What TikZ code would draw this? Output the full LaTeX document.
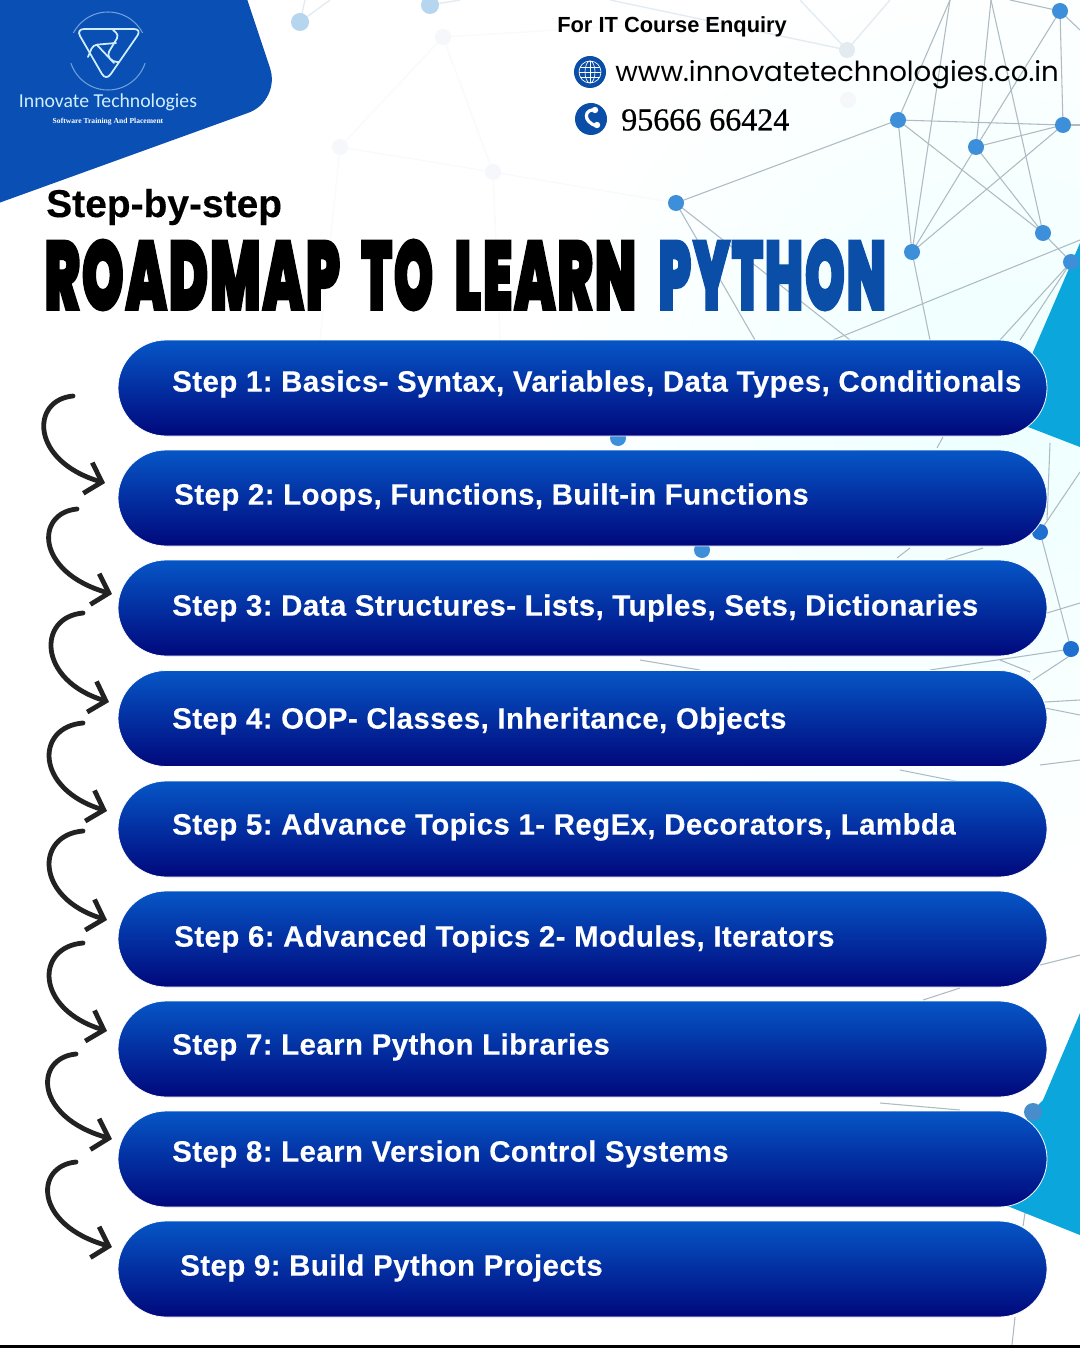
\documentclass[tikz,border=0pt]{standalone}
\usepackage{fontspec}
\usepackage{graphicx}
\usetikzlibrary{arrows.meta,shapes.misc,calc}
\setmainfont{Liberation Sans}
\newfontfamily\stepfont[LetterSpace=1.4,FakeBold=0.25]{Liberation Sans Bold}
\newfontfamily\boldfont[FakeBold=0.3]{Liberation Sans Bold}
\newfontfamily\enqfont{Liberation Sans Bold}
\newfontfamily\headfont[FakeBold=2.5,LetterSpace=3]{Poppins Black}
\newfontfamily\logofont{Carlito}
\newfontfamily\webfont{Poppins}
\newfontfamily\serfont[FakeBold=0.6]{Liberation Serif}
\newfontfamily\tagfont{Liberation Serif Bold}
\frenchspacing
\definecolor{brandblue}{HTML}{0A4FB3}
\definecolor{headblue}{HTML}{0A4EA8}
\definecolor{pilltop}{HTML}{0656C6}
\definecolor{pillbot}{HTML}{00087C}
\definecolor{cyanpoly}{HTML}{0AA6DC}
\definecolor{dotblue}{HTML}{3D8FD9}
\definecolor{dotdeep}{HTML}{1F6FD0}
\definecolor{netgray}{HTML}{AEBBC2}
\definecolor{faintnet}{HTML}{F8FAFB}
\definecolor{palenet}{HTML}{E3EBF1}
\definecolor{faintdot}{HTML}{F5F7FA}
\definecolor{paledot}{HTML}{B6D5EE}
\definecolor{logolight}{HTML}{CFEFFF}
\definecolor{arrowdark}{HTML}{222222}
\newcommand{\titleword}[2]{\resizebox{#1}{52.5pt}{\headfont\vphantom{O}#2}}
\tikzset{
  pill/.style={rounded rectangle,minimum width=696.75pt,minimum height=72pt,inner sep=0pt,
    top color=pilltop,bottom color=pillbot,draw=white,line width=0.6pt},
  steptext/.style={anchor=west,inner sep=0pt,text=white,font=\fontsize{22.1}{26}\stepfont},
  titletext/.style={anchor=west,inner sep=0pt},
  netline/.style={draw=netgray,line width=0.8pt},
  fline/.style={draw=faintnet,line width=1pt},
  pline/.style={draw=palenet,line width=1pt},
  logoline/.style={draw=logolight,line width=1.3pt,line cap=round},
  logoarc/.style={draw=logolight!50!brandblue,line width=0.8pt},
  curvearrow/.style={draw=arrowdark,line width=3.6pt,line cap=round,
    -{Straight Barb[length=11pt,width=24pt,line width=3.6pt]}},
}
\begin{document}
\begin{tikzpicture}[x=0.75pt,y=-0.75pt]
\useasboundingbox (0,0) rectangle (1080,1348);
\fill[white] (0,0) rectangle (1080,1348);
\begin{scope}
  \clip (0,0) rectangle (1080,1348);
  \shade[inner color=cyan!7,outer color=white] (1000,420) circle (470);
\end{scope}
% faint network
\foreach \a/\b/\c/\d in {443/37/340/147,443/37/493/172,340/147/493/172,340/147/320/340,493/172/500/340,493/172/676/203,443/37/640/25}
  \draw[fline] (\a,\b) -- (\c,\d);
\foreach \a/\b/\c/\d in {300/22/305/0,300/22/330/0,430/5/460/0,847/50/800/0,847/50/890/0,847/50/610/0}
  \draw[pline] (\a,\b) -- (\c,\d);
\foreach \p/\q in {443/37,340/147,493/172,848/100}
  \fill[faintdot] (\p,\q) circle (8);
\fill[paledot] (300,22) circle (9);
\fill[paledot] (430,5) circle (9);
\fill[palenet] (847,50) circle (8);
% network coordinates
\coordinate (na) at (1060,11);
\coordinate (nb) at (898,120);
\coordinate (nc) at (976,147);
\coordinate (nd) at (1063,125);
\coordinate (ne) at (1043,233);
\coordinate (nf) at (912,252);
\coordinate (ng) at (676,203);
\coordinate (nh) at (1071,262);
\coordinate (ni) at (1040,532);
\coordinate (nj) at (1071,649);
\coordinate (nk) at (618,438);
\coordinate (nl) at (702,550);
\coordinate (t1) at (950,0);
\coordinate (t2) at (991,0);
\coordinate (t3) at (1010,0);
\coordinate (r1) at (1080,125);
\coordinate (r2) at (1080,30);
\coordinate (r3) at (1080,240);
\coordinate (b1) at (755,340);
\coordinate (b2) at (850,340);
\coordinate (b3) at (930,340);
\coordinate (b4) at (833,340);
\coordinate (b5) at (1000,340);
\coordinate (b6) at (1020,340);
\foreach \u/\v in {nb/nd,nb/ne,nb/nf,nb/ng,nb/t1,nc/nd,nc/ne,nc/nf,nc/t2,na/nc,na/nd,t2/ne,nd/nf,t1/nf,ng/b1,ng/b2,nf/b3,r3/b4,na/t3,nd/r1,na/r2,nh/b5,nh/b6,ne/nh}
  \draw[netline] (\u) -- (\v);
% lower network
\foreach \a/\b/\c/\d in {1050/443/1047/520,1080/472/1043/527,1080/603/1047/613,1071/649/930/670,1071/655/1033/680,1080/700/1045/702,1080/715/1045/708,943/437/937/448,910/548/897/558,983/548/945/560,880/1103/960/1110,960/988/923/1000,1080/955/1040/965,1025/1213/1023/1226,1015/1317/1012/1345,1040/532/1071/649,
 900/770/960/782,1040/765/1080/760,640/660/700/670,1000/660/1030/672}
  \draw[netline] (\a,\b) -- (\c,\d);
% cyan shards
\fill[cyanpoly] (1080,243) -- (1033,352) -- (1010,420) -- (1080,447) -- cycle;
\fill[cyanpoly] (1080,1013) -- (1043,1100) -- (1033,1110) -- (980,1195) -- (1080,1235) -- cycle;
\fill[dotblue!85!gray] (1033,1112) circle (9);
% dots
\foreach \n in {na,nb,nc,nd,ne,nf,ng,nh,nk,nl}
  \fill[dotblue] (\n) circle (8);
\fill[dotdeep] (ni) circle (8);
\fill[dotdeep] (nj) circle (8);
% logo banner
\fill[brandblue,rounded corners=26pt] (-40,-40) -- (234,-40) -- (281,101) -- (-40,217) -- cycle;
\begin{scope}
  \clip (50,0) rectangle (170,33);
  \draw[logoarc] (108,51) circle (39);
\end{scope}
\begin{scope}
  \clip (50,64) rectangle (170,100);
  \draw[logoarc] (108,51) circle (39);
\end{scope}
\draw[logoline,rounded corners=6pt] (76,29) -- (142,29) -- (106,81) -- cycle;
\draw[logoline,rounded corners=3pt] (113,30) -- (119,35) -- (107,55) -- (113,62) -- (119,62);
\draw[logoline,rounded corners=3pt] (88,57) -- (93,45) -- (116,43);
\draw[logoline] (97,45) -- (114,63);
\node[inner sep=0pt,text=logolight,font=\fontsize{14.8}{16}\logofont] (brand) at (108,102) {Innovate Technologies};
\node[inner sep=0pt,text=white,font=\fontsize{5.7}{6}\tagfont] (tag) at (108,122) {Software Training And Placement};
% enquiry
\node[anchor=west,inner sep=0pt,font=\fontsize{16.4}{20}\enqfont] (enq) at (557,27) {For IT Course Enquiry};
\fill[headblue] (590,72) circle (16);
\begin{scope}[shift={(590,72)}]
  \draw[white,line width=0.5pt] (0,0) circle (11);
  \draw[white,line width=0.5pt] (0,0) ellipse (5 and 11);
  \draw[white,line width=0.5pt] (0,-11) -- (0,11) (-11,0) -- (11,0) (-10,-5) -- (10,-5) (-10,5) -- (10,5);
\end{scope}
\node[anchor=west,inner sep=0pt,font=\fontsize{20.7}{26}\webfont] (web) at (615,75) {www.innovatetechnologies.co.in};
\fill[headblue] (591,119) circle (16);
\draw[white,line width=2.4pt] (596,110) .. controls (584,108) and (582,122) .. (597,126);
\fill[white] (595,110) circle (3.2);
\fill[white] (597,125) circle (3.2);
\node[anchor=west,inner sep=0pt,font=\fontsize{24}{28}\serfont] (tel) at (621,120) {95666 66424};
% headings
\node[anchor=west,inner sep=0pt,font=\fontsize{29.2}{34}\boldfont] (sub) at (46,207) {Step-by-step};
\node[titletext] (word1) at (44,275) {\titleword{222pt}{ROADMAP}};
\node[titletext] (word2) at (361,275) {\titleword{54pt}{TO}};
\node[titletext] (word3) at (454,275) {\titleword{136.5pt}{LEARN}};
\node[titletext,text=headblue] (python) at (658,275) {\titleword{171pt}{PYTHON}};
% pills
\foreach \i/\y in {1/388,2/498,3/608,4/718.5,5/829,6/939,7/1049,8/1159,9/1269}
  \node[pill] (s\i) at (582.5,\y) {};
\node[steptext] (t-1) at (172,384) {Step 1: Basics- Syntax, Variables, Data Types, Conditionals};
\node[steptext] (t-2) at (174,497) {Step 2: Loops, Functions, Built-in Functions};
\node[steptext] (t-3) at (172,608) {Step 3: Data Structures- Lists, Tuples, Sets, Dictionaries};
\node[steptext] (t-4) at (172,721) {Step 4: OOP- Classes, Inheritance, Objects};
\node[steptext] (t-5) at (172,827) {Step 5: Advance Topics 1- RegEx, Decorators, Lambda};
\node[steptext] (t-6) at (174,939) {Step 6: Advanced Topics 2- Modules, Iterators};
\node[steptext] (t-7) at (172,1047) {Step 7: Learn Python Libraries};
\node[steptext] (t-8) at (172,1154) {Step 8: Learn Version Control Systems};
\node[steptext] (t-9) at (180,1268) {Step 9: Build Python Projects};
% curved arrows
\foreach \i/\sx/\sy/\lx/\ex/\ey in {1/73/396/45/105/483,2/77/509/50/112/594,3/83/613/52/109/702,4/83/723/50/107/811,5/83/831/50/107/920,6/83/943/50/107/1031,7/76/1054/49/112/1139,8/76/1162/49/112/1247}{
  \pgfmathsetmacro{\cx}{(8*\lx-\sx-\ex)/6}
  \pgfmathsetmacro{\cya}{\sy+4}
  \pgfmathsetmacro{\cyb}{\ey-22}
  \coordinate (as\i) at (\sx,\sy);
  \coordinate (ae\i) at (\ex,\ey);
  \draw[curvearrow] (as\i) .. controls (\cx,\cya) and (\cx,\cyb) .. (ae\i);
}
\fill[black] (0,1345) rectangle (1080,1348);
\end{tikzpicture}
\end{document}
